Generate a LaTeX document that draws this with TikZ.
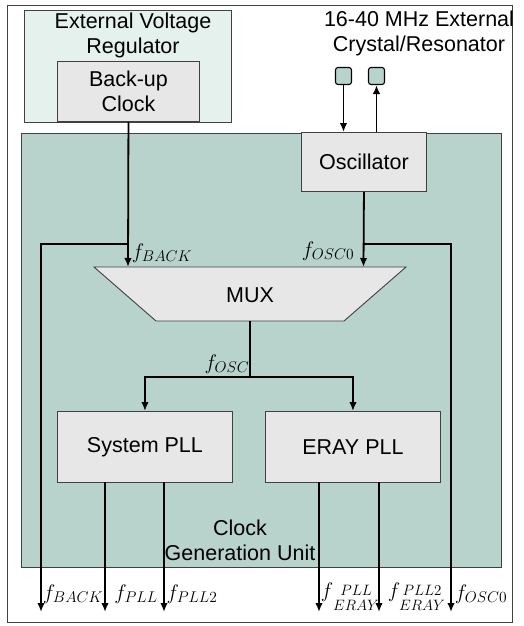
\documentclass[tikz,border=0pt]{standalone}
\usepackage{fix-cm}
\usepackage{amsmath}
\usepackage{fontspec}
\setmainfont{Liberation Sans}
\DeclareMathSizes{21}{21}{15.5}{11}
\usetikzlibrary{arrows.meta}
\definecolor{cgu}{HTML}{B8D3CB}
\definecolor{evrc}{HTML}{E5F1ED}
\definecolor{gbox}{HTML}{E8E7E7}
\begin{document}
\begin{tikzpicture}[x=1pt,y=-1pt,
  box/.style={draw=black!75, line width=0.9pt, inner sep=0pt, anchor=north west},
  sig/.style={line width=1.8pt, -{Latex[length=9pt,width=7.5pt]}},
  wire/.style={line width=1.8pt},
  txt/.style={font=\fontsize{21.5}{25}\selectfont, align=center, inner sep=0pt},
  mlbl/.style={font=\fontsize{21}{24}\selectfont, inner sep=0pt},
  sublbl/.style={font=\fontsize{15}{15.5}\selectfont, align=center, inner sep=0pt},
]
\useasboundingbox (0,0) rectangle (523,626);
\draw[draw=black!75, line width=0.9pt, fill=white] (7,5) rectangle (512,622);
% external voltage regulator
\node[box, fill=evrc, minimum width=207pt, minimum height=112pt] (evr) at (24,10) {};
\node[txt] (evrt) at (133,35) {External Voltage\\Regulator};
\node[box, fill=gbox, minimum width=142pt, minimum height=60pt] (backup) at (57,61) {};
\node[txt] at (backup.center) {Back-up\\Clock};
% crystal
\node[txt] (xtal) at (419,33) {16-40 MHz External\\Crystal/Resonator};
\node[draw=black, line width=1.1pt, fill=cgu, rounded corners=2.5pt, minimum width=16pt, minimum height=17pt, inner sep=0pt] (pin1) at (343.5,76) {};
\node[draw=black, line width=1.1pt, fill=cgu, rounded corners=2.5pt, minimum width=16pt, minimum height=17pt, inner sep=0pt] (pin2) at (376.5,76) {};
% CGU
\node[box, fill=cgu, minimum width=480pt, minimum height=434pt] (cgu) at (21,133) {};
\node[txt] at (240,540) {Clock\\Generation Unit};
\node[box, fill=gbox, minimum width=125pt, minimum height=59pt] (osc) at (301,132) {};
\node[txt] at (osc.center) {Oscillator};
% MUX
\coordinate (muxA) at (128,267);
\coordinate (muxB) at (363.5,267);
\coordinate (muxout) at (250,321);
\draw[draw=black!75, line width=0.9pt, fill=gbox] (94,267) -- (406,267) -- (344,321) -- (156,321) -- cycle;
\node[txt] (mux) at (250,295) {MUX};
% PLLs
\node[box, fill=gbox, minimum width=175pt, minimum height=71pt] (syspll) at (57,411) {};
\node[txt] at (syspll.center) {System PLL};
\node[box, fill=gbox, minimum width=175pt, minimum height=71pt] (eraypll) at (265,411) {};
\node[txt] at (eraypll.center) {ERAY PLL};
% crystal connections
\draw[sig] (pin1.south) -- (pin1.south |- osc.north);
\draw[sig] (pin2.south |- osc.north) -- (pin2.south);
% into mux
\draw[sig] (backup.south) -- (muxA);
\draw[sig] (osc.south) -- (muxB);
\coordinate (jb) at (128,244);
\coordinate (jo) at (363.5,244);
\coordinate (ob) at (41,612);
\coordinate (oo) at (451,612);
\draw[sig] (jb) -| (ob);
\draw[sig] (jo) -| (oo);
% mux output
\coordinate (jf) at (250,377);
\draw[wire] (muxout) -- (jf);
\draw[sig] (jf) -| (syspll.north);
\draw[sig] (jf) -| (eraypll.north);
% PLL outputs
\coordinate (s1) at (105,482); \coordinate (s1e) at (105,612);
\coordinate (s2) at (164,482); \coordinate (s2e) at (164,612);
\coordinate (e1) at (319,482); \coordinate (e1e) at (319,612);
\coordinate (e2) at (379,482); \coordinate (e2e) at (379,612);
\draw[sig] (s1) -- (s1e);
\draw[sig] (s2) -- (s2e);
\draw[sig] (e1) -- (e1e);
\draw[sig] (e2) -- (e2e);
% labels
\node[mlbl] at (162,253) {$f_{BACK}$};
\node[mlbl] at (328,251) {$f_{OSC0}$};
\node[mlbl] at (227,364) {$f_{OSC}$};
\node[mlbl] at (73,594) {$f_{BACK}$};
\node[mlbl] at (136,594) {$f_{PLL}$};
\node[mlbl] at (192,594) {$f_{PLL2}$};
\node[mlbl] (fe1) at (327,592) {$f$};
\node[sublbl, anchor=west] (fe1s) at (333,598) {$PLL$\\$ERAY$};
\node[mlbl] (fe2) at (394,592) {$f$};
\node[sublbl, anchor=west] (fe2s) at (399,598) {$PLL2$\\$ERAY$};
\node[mlbl] at (481,594) {$f_{OSC0}$};
\end{tikzpicture}
\end{document}
